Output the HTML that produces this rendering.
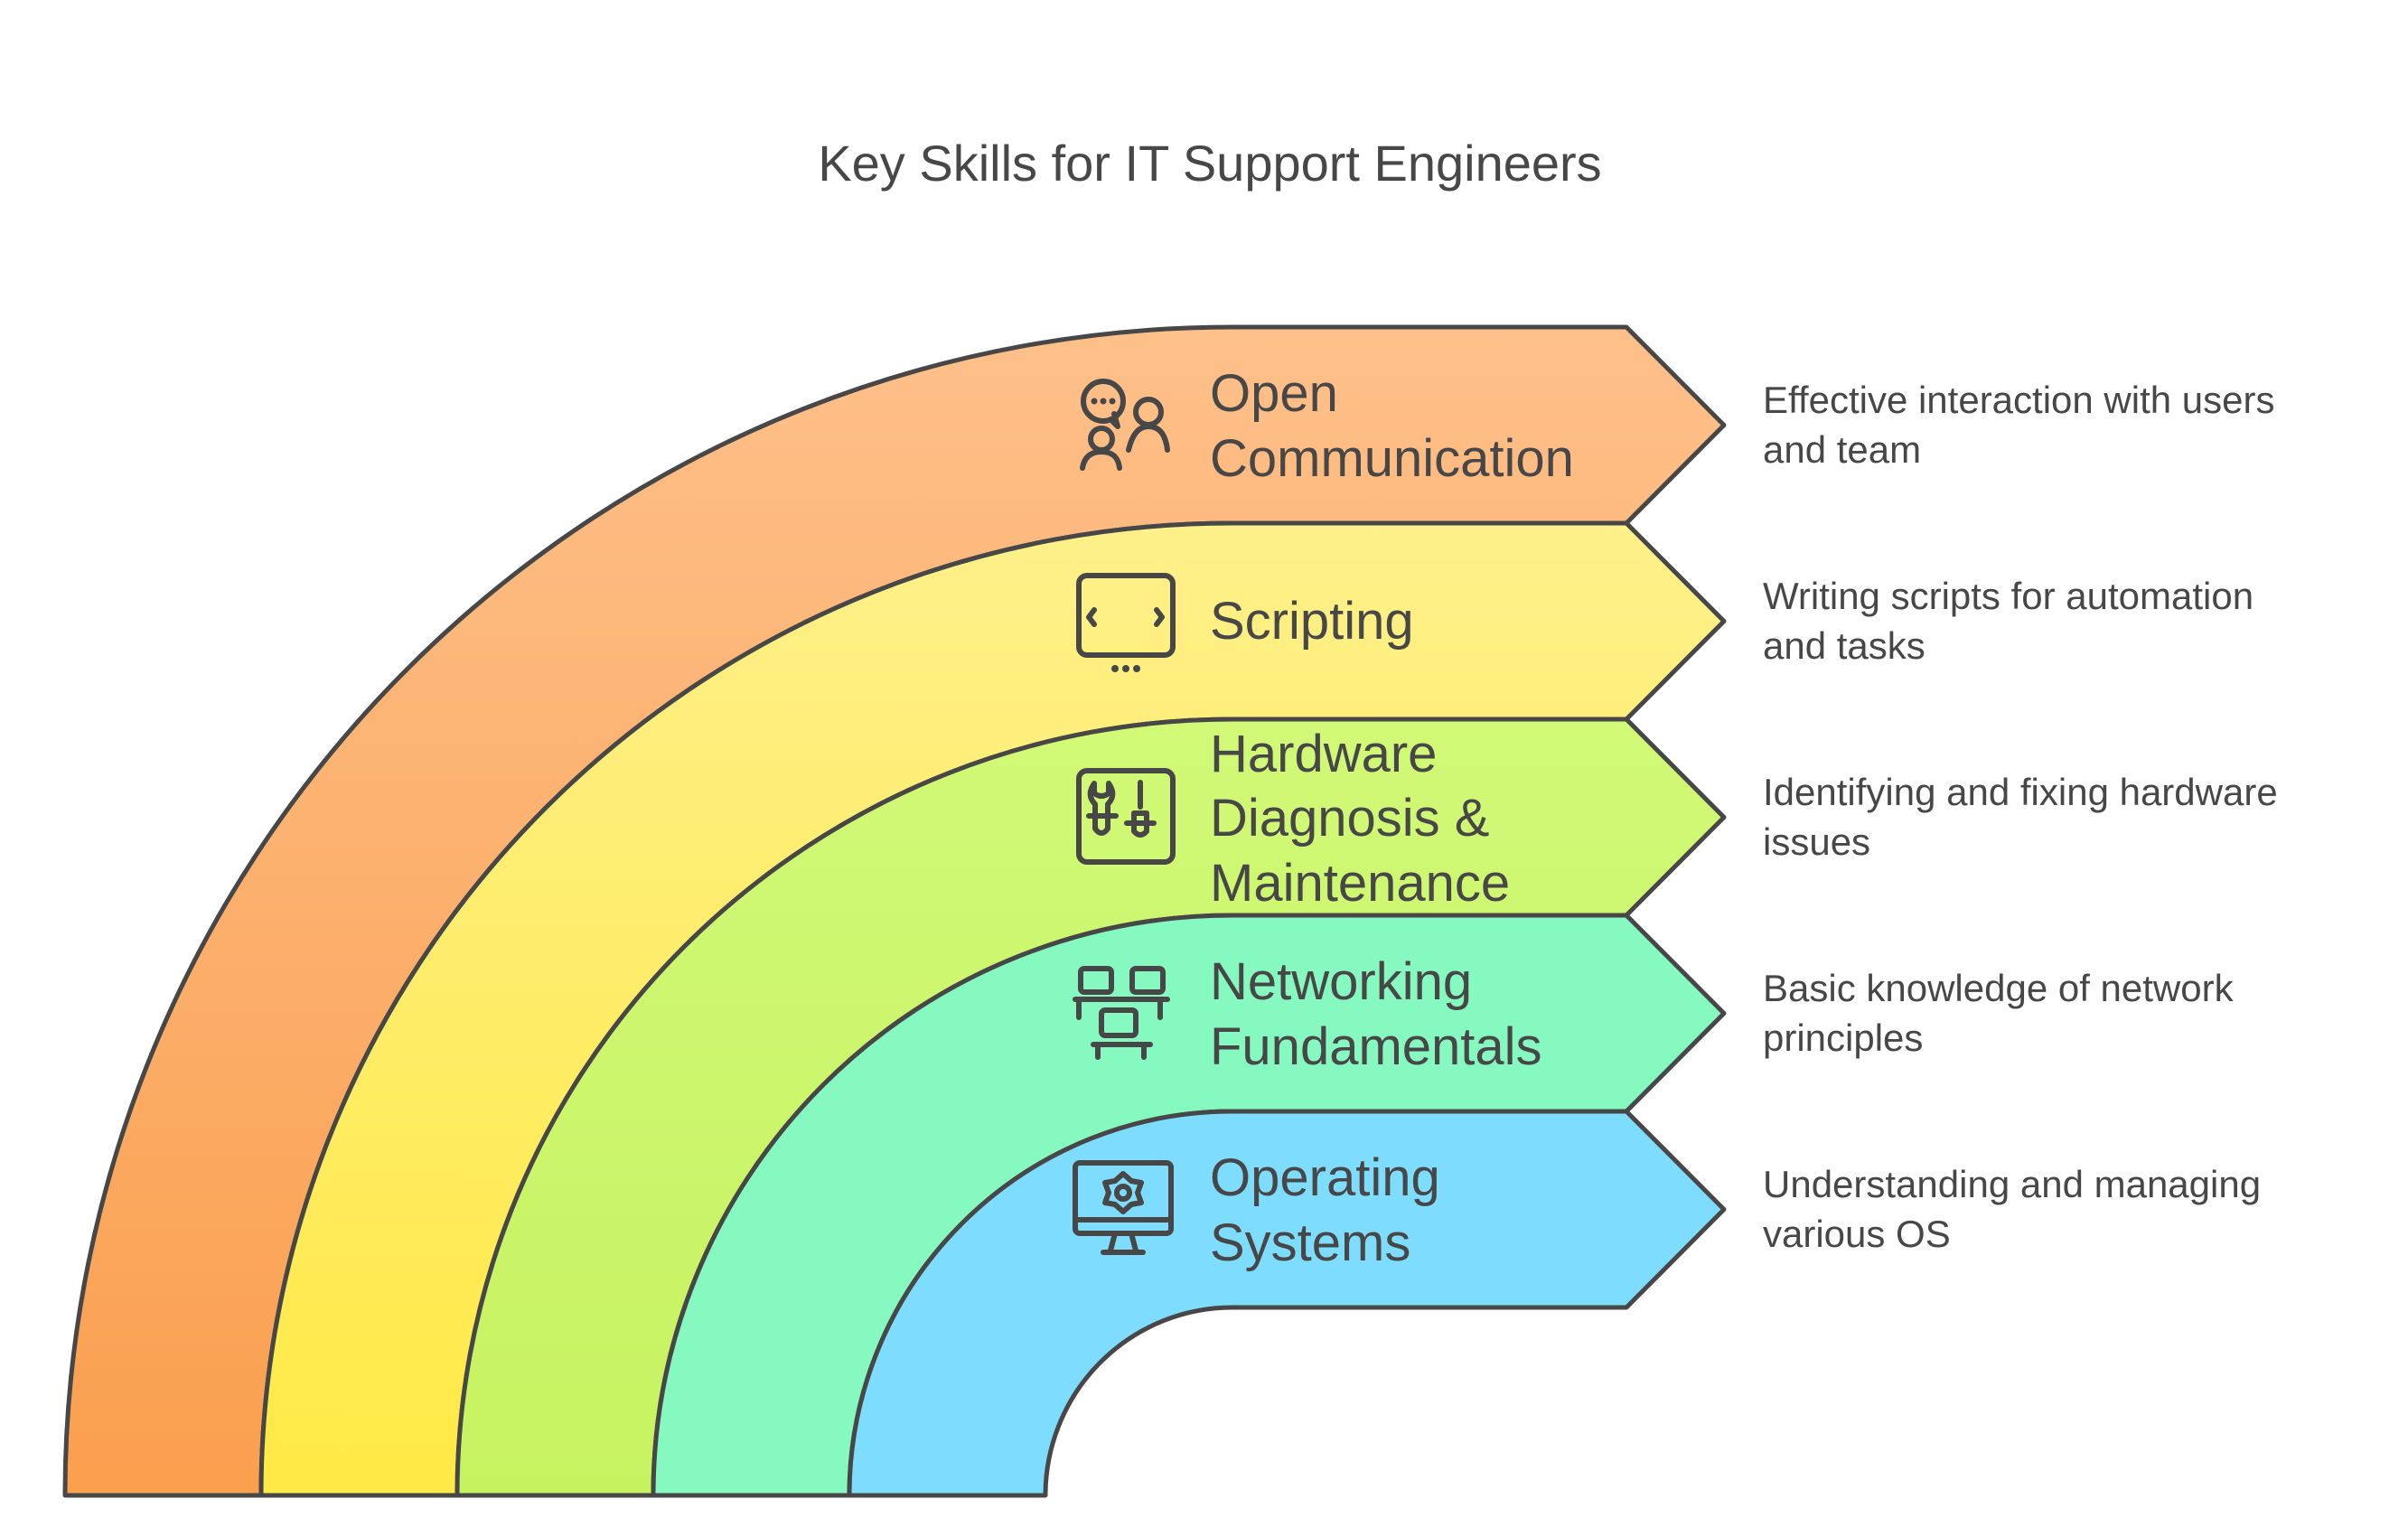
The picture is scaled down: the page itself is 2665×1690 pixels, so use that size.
<!DOCTYPE html>
<html><head><meta charset="utf-8"><style>
html,body{margin:0;padding:0;background:#fff;}
svg{display:block;}
text{font-family:"Liberation Sans",sans-serif;fill:#474747;}
</style></head><body>
<svg width="2665" height="1690" viewBox="0 0 2665 1690" xmlns="http://www.w3.org/2000/svg">
<defs>
<linearGradient id="g0" x1="0" y1="0" x2="0" y2="1"><stop offset="0" stop-color="#FEC08A"/><stop offset="1" stop-color="#FA9F4E"/></linearGradient>
<linearGradient id="g1" x1="0" y1="0" x2="0" y2="1"><stop offset="0" stop-color="#FEF08A"/><stop offset="1" stop-color="#FFE945"/></linearGradient>
<linearGradient id="g2" x1="0" y1="0" x2="0" y2="1"><stop offset="0" stop-color="#D1F977"/><stop offset="1" stop-color="#C7F260"/></linearGradient>
</defs>
<text x="1339" y="200" font-size="56" text-anchor="middle">Key Skills for IT Support Engineers</text>
<g stroke="#474747" stroke-width="5" stroke-linejoin="round">
<path fill="url(#g0)" d="M72,1655 A1292 1293 0 0 1 1364,362 L1800,362 L1908,470.5 L1800,579 L1364,579 A1075 1076 0 0 0 289,1655 Z"/>
<path fill="url(#g1)" d="M289,1655 A1075 1076 0 0 1 1364,579 L1800,579 L1908,687.5 L1800,796 L1364,796 A858 859 0 0 0 506,1655 Z"/>
<path fill="url(#g2)" d="M506,1655 A858 859 0 0 1 1364,796 L1800,796 L1908,904.5 L1800,1013 L1364,1013 A641 642 0 0 0 723,1655 Z"/>
<path fill="#85F9C0" d="M723,1655 A641 642 0 0 1 1364,1013 L1800,1013 L1908,1121.5 L1800,1230 L1364,1230 A424 425 0 0 0 940,1655 Z"/>
<path fill="#7EDDFE" d="M940,1655 A424 425 0 0 1 1364,1230 L1800,1230 L1908,1338.5 L1800,1447 L1364,1447 A207 208 0 0 0 1157,1655 Z"/>
</g>
<g font-size="58">
<text x="1339" y="455">Open</text>
<text x="1339" y="527">Communication</text>
<text x="1339" y="707">Scripting</text>
<text x="1339" y="854">Hardware</text>
<text x="1339" y="925">Diagnosis &amp;</text>
<text x="1339" y="997">Maintenance</text>
<text x="1339" y="1106">Networking</text>
<text x="1339" y="1178">Fundamentals</text>
<text x="1339" y="1323">Operating</text>
<text x="1339" y="1395">Systems</text>
</g>
<g font-size="42">
<text x="1951" y="457">Effective interaction with users</text>
<text x="1951" y="512">and team</text>
<text x="1951" y="674">Writing scripts for automation</text>
<text x="1951" y="729">and tasks</text>
<text x="1951" y="891">Identifying and fixing hardware</text>
<text x="1951" y="946">issues</text>
<text x="1951" y="1108">Basic knowledge of network</text>
<text x="1951" y="1163">principles</text>
<text x="1951" y="1325">Understanding and managing</text>
<text x="1951" y="1380">various OS</text>
</g>
<g fill="none" stroke="#474747" stroke-width="6" stroke-linecap="round" stroke-linejoin="round">
<circle cx="1221" cy="444" r="22"/>
<path d="M1229,464 L1237,472 L1233,458"/>
<circle cx="1271" cy="456" r="14"/>
<path d="M1249,498 Q1255,472 1271,472 Q1289,472 1292,498"/>
<circle cx="1219" cy="486" r="12"/>
<path d="M1198,518 Q1201,500 1219,500 Q1237,500 1239,518"/>
<rect x="1194" y="637" width="104" height="88" rx="9"/>
<path d="M1211,675 L1205,683 L1211,691 M1280,675 L1286,683 L1280,691"/>
<rect x="1194" y="853" width="104" height="101" rx="9"/>
<path d="M1211,867 Q1202,880 1212,890 L1212,917 Q1219,927 1226,917 L1226,890 Q1236,880 1227,867 L1227,878 Q1219,884 1211,878 Z"/>
<path d="M1205,903 L1235,903 M1262,866 L1262,893 M1247,911 L1277,911 M1255,900 L1255,920 Q1262,928 1269,920 L1269,900 Z"/>
<rect x="1196" y="1072" width="34" height="26" rx="4"/>
<rect x="1253" y="1072" width="34" height="26" rx="4"/>
<path d="M1190,1106 L1292,1106 M1194,1106 L1194,1126 M1284,1106 L1284,1126"/>
<rect x="1219" y="1118" width="38" height="28" rx="4"/>
<path d="M1210,1156 L1273,1156 M1215,1156 L1215,1170 M1266,1156 L1266,1170"/>
<rect x="1190" y="1287" width="106" height="78" rx="5"/>
<path d="M1190,1350 L1296,1350 M1234,1365 L1229,1384 M1252,1365 L1257,1384 M1221,1386 L1265,1386"/>
<circle cx="1243" cy="1320" r="7"/>
<path d="M1243,1299 L1252,1307 L1263,1309 L1259,1320 L1263,1331 L1252,1333 L1243,1341 L1234,1333 L1223,1331 L1227,1320 L1223,1309 L1234,1307 Z"/>
</g>
<g fill="#474747">
<circle cx="1211" cy="444" r="3.5"/><circle cx="1221" cy="444" r="3.5"/><circle cx="1231" cy="444" r="3.5"/>
<circle cx="1234" cy="740" r="4"/><circle cx="1246" cy="740" r="4"/><circle cx="1258" cy="740" r="4"/>
</g>
</svg>
</body></html>
